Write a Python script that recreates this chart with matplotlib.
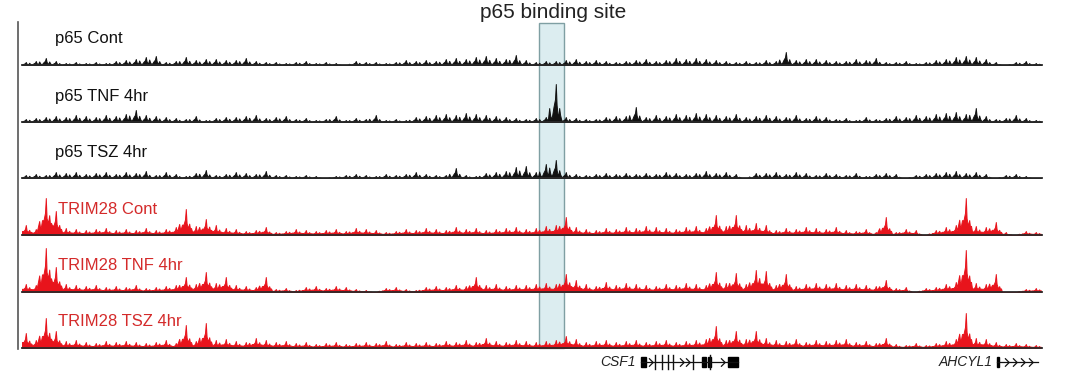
import matplotlib
matplotlib.use("Agg")
import matplotlib.pyplot as plt
import numpy as np
from matplotlib.lines import Line2D
from matplotlib.patches import Rectangle
from matplotlib.transforms import blended_transform_factory

plt.rcParams["font.family"] = ["Liberation Sans", "DejaVu Sans"]

# signal per 10 px bin (102 bins), heights in px above the baseline
p65_cont = [3, 4, 7, 4, 2, 3, 2, 3, 2, 4,
            5, 6, 8, 9, 3, 4, 8, 5, 6, 6,
            5, 5, 7, 4, 3, 3, 2, 3, 4, 2,
            3, 2, 0, 4, 3, 3, 2, 3, 5, 4,
            5, 4, 6, 7, 6, 8, 9, 7, 6, 10,
            5, 3, 4, 4, 5, 6, 4, 5, 4, 3,
            4, 5, 6, 4, 5, 7, 6, 7, 6, 5,
            4, 3, 4, 3, 5, 4, 13, 5, 6, 6,
            5, 4, 4, 6, 5, 7, 3, 3, 4, 2,
            3, 5, 6, 8, 9, 8, 6, 3, 0, 3,
            4, 2]
p65_tnf = [3, 4, 5, 6, 5, 7, 6, 5, 7, 6,
           8, 12, 7, 6, 5, 4, 3, 6, 2, 4,
           5, 5, 6, 7, 4, 5, 6, 3, 4, 2,
           3, 6, 2, 4, 3, 7, 2, 3, 2, 5,
           6, 7, 8, 7, 9, 8, 7, 6, 5, 4,
           3, 4, 5, 38, 5, 4, 3, 3, 5, 6,
           6, 15, 5, 7, 6, 8, 7, 9, 8, 7,
           6, 8, 5, 6, 7, 6, 5, 7, 4, 6,
           5, 3, 4, 2, 5, 3, 4, 6, 5, 7,
           6, 8, 9, 10, 8, 14, 6, 3, 4, 7,
           4, 2]
p65_tsz = [3, 4, 3, 6, 5, 6, 4, 5, 6, 4,
           6, 5, 7, 3, 6, 4, 2, 5, 8, 3,
           4, 6, 5, 4, 7, 3, 3, 2, 3, 2,
           0, 2, 3, 4, 3, 2, 4, 3, 4, 6,
           4, 3, 3, 10, 3, 2, 5, 6, 7, 11,
           12, 6, 14, 18, 6, 4, 3, 4, 5, 4,
           5, 4, 5, 4, 6, 5, 4, 5, 7, 5,
           6, 4, 0, 5, 5, 6, 4, 6, 5, 3,
           5, 4, 3, 5, 2, 4, 5, 4, 0, 3,
           4, 5, 6, 7, 5, 6, 4, 0, 3, 4,
           2, 0]
trim28_cont = [10, 6, 37, 24, 7, 6, 5, 6, 7, 5,
               6, 5, 7, 5, 6, 8, 26, 9, 16, 10,
               7, 6, 4, 5, 8, 3, 4, 6, 5, 4,
               5, 6, 4, 7, 6, 5, 3, 4, 6, 5,
               7, 6, 5, 8, 6, 7, 5, 6, 7, 8,
               6, 7, 9, 10, 18, 8, 6, 5, 7, 6,
               8, 7, 9, 8, 7, 6, 8, 9, 7, 20,
               9, 20, 10, 12, 10, 5, 7, 6, 8, 7,
               6, 8, 5, 4, 6, 3, 18, 3, 6, 5,
               0, 5, 8, 10, 37, 9, 8, 13, 3, 0,
               4, 3]
trim28_tnf = [8, 7, 44, 25, 8, 7, 6, 7, 5, 6,
              5, 7, 4, 5, 6, 7, 15, 8, 20, 9,
              15, 7, 6, 5, 15, 3, 4, 2, 5, 6,
              4, 6, 5, 3, 2, 0, 4, 5, 3, 2,
              5, 6, 5, 7, 6, 15, 7, 8, 6, 7,
              7, 8, 9, 8, 18, 12, 8, 6, 10, 7,
              9, 8, 7, 6, 8, 7, 9, 8, 7, 20,
              9, 19, 8, 22, 21, 7, 18, 6, 8, 9,
              8, 9, 7, 8, 7, 6, 12, 4, 5, 0,
              4, 5, 8, 10, 42, 9, 8, 18, 0, 0,
              3, 4]
trim28_tsz = [15, 8, 30, 17, 7, 8, 6, 5, 7, 6,
              7, 6, 5, 6, 8, 5, 23, 7, 25, 8,
              9, 7, 6, 10, 8, 6, 7, 5, 6, 4,
              5, 6, 4, 5, 6, 5, 7, 4, 6, 5,
              6, 5, 7, 6, 8, 6, 10, 7, 6, 8,
              7, 6, 7, 8, 12, 9, 6, 7, 8, 6,
              7, 8, 6, 7, 8, 6, 7, 8, 9, 22,
              8, 17, 9, 17, 10, 8, 7, 9, 6, 8,
              7, 8, 9, 6, 7, 5, 10, 4, 3, 5,
              3, 5, 7, 9, 35, 10, 9, 6, 4, 5,
              4, 3]

track_labels = ["p65 Cont", "p65 TNF 4hr", "p65 TSZ 4hr",
                "TRIM28 Cont", "TRIM28 TNF 4hr", "TRIM28 TSZ 4hr"]
track_data = [p65_cont, p65_tnf, p65_tsz, trim28_cont, trim28_tnf, trim28_tsz]
track_colors = ["#111111", "#111111", "#111111", "#e8141c", "#e8141c", "#e8141c"]
label_colors = ["#111111", "#111111", "#111111", "#d42a2a", "#d42a2a", "#d42a2a"]

highlight = (51.7, 54.2)  # bins

# gene models (bin units)
csf1_span = (61.9, 71.6)
csf1_exons = [(61.9, 62.4), (68.0, 68.4), (68.6, 68.9), (70.6, 71.6)]
csf1_ticks = [63.3, 64.0, 64.6, 65.1, 67.1, 68.8]
csf1_arrows = [62.9, 66.0, 66.6, 70.1]
ahcyl1_span = (97.5, 101.6)
ahcyl1_exons = [(97.5, 97.7)]
ahcyl1_arrows = [98.5, 99.3, 100.1, 100.9]

W, H = 1080, 389
fig = plt.figure(figsize=(W / 100, H / 100), dpi=100)


def fbox(x0, top, w, h):
    return [x0 / W, 1 - (top + h) / H, w / W, h / H]


def spike(values, floor):
    # each bin drawn as a main peak plus a smaller shoulder towards the next bin
    xs, ys = [], []
    n = len(values)
    for i, v in enumerate(values):
        nxt = values[i + 1] if i + 1 < n else v
        m = 0.5 * (v + nxt)
        xs.extend(i + np.array([0.0, 0.15, 0.3, 0.38, 0.46, 0.6, 0.72, 0.8, 0.9]))
        ys.extend([floor * v, 0.4 * v, 0.6 * v, 1.0 * v, 0.45 * v,
                   floor * m, 0.65 * m, 0.35 * m, floor * m])
    return np.array(xs), np.array(ys)


baselines = [65, 122, 178, 235, 292, 348]
nb = len(p65_cont)
axes = []
for b, lab, data, col, lcol in zip(baselines, track_labels, track_data,
                                    track_colors, label_colors):
    ax = fig.add_axes(fbox(22, b - 56, 1020, 56))
    ax.patch.set_visible(False)
    ax.set_xlim(0, nb)
    ax.set_ylim(0, 56)
    ax.axis("off")
    red = "TRIM" in lab
    xs, ys = spike(data, 0.4 if red else 0.15)
    ax.fill_between(xs, 0, ys, color=col, linewidth=0.7, edgecolor=col)
    ax.axhline(0, color="#2a2a2a", lw=1.3, clip_on=False)
    ax.text(33 / 1020 * nb + (0.3 if red else 0), 26, lab,
            color=lcol, fontsize=12, va="center", ha="left")
    axes.append(ax)

# highlighted region
tr = blended_transform_factory(axes[0].transData, fig.transFigure)
fig.add_artist(Rectangle((highlight[0], 1 - 348 / H), highlight[1] - highlight[0],
                         (348 - 23) / H, transform=tr, facecolor="#dcedf0",
                         edgecolor="#7f9fa3", lw=1.0, zorder=-1))
fig.text(553 / W, 1 - 13 / H, "p65 binding site", fontsize=15,
         ha="center", va="center", color="#222222")

# left axis line
fig.add_artist(Line2D([18 / W, 18 / W], [1 - 22 / H, 1 - 349 / H],
                      color="#555555", lw=1.2))

# gene track
gax = fig.add_axes(fbox(22, 350, 1020, 24))
gax.patch.set_visible(False)
gax.set_xlim(0, nb)
gax.set_ylim(-1, 1)
gax.axis("off")
chev = [(-0.6, 1), (0.4, 0), (-0.6, -1)]
for span, exons, arrows in [(csf1_span, csf1_exons, csf1_arrows),
                            (ahcyl1_span, ahcyl1_exons, ahcyl1_arrows)]:
    gax.plot(span, [0, 0], color="#111111", lw=0.9)
    for a, b in exons:
        gax.add_patch(Rectangle((a, -0.45), b - a, 0.9, color="#000000"))
    gax.plot(arrows, [0] * len(arrows), ls="none", marker=chev, ms=6,
             mfc="none", mec="#111111", mew=0.9)
for t in csf1_ticks:
    gax.plot([t, t], [-0.55, 0.55], color="#111111", lw=1.0)
gax.text(csf1_span[0] - 0.5, 0, "CSF1", style="italic", fontsize=10,
         ha="right", va="center", color="#222222")
gax.text(ahcyl1_span[0] - 0.4, 0, "AHCYL1", style="italic", fontsize=10,
         ha="right", va="center", color="#222222")

plt.savefig("out.png", dpi=100)
plt.close()
